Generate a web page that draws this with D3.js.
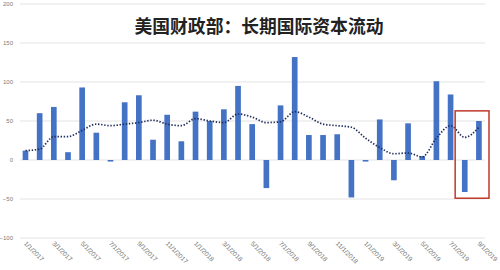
<!DOCTYPE html>
<html lang="zh">
<head>
<meta charset="UTF-8">
<title>美国财政部：长期国际资本流动</title>
<script src="https://d3js.org/d3.v7.min.js"></script>
<style>
  html, body { margin: 0; padding: 0; background: #fff; }
  svg { display: block; }
</style>
</head>
<body>
<div id="chart"></div>
<script>
  const months = [
    "1/1/2017","2/1/2017","3/1/2017","4/1/2017","5/1/2017","6/1/2017","7/1/2017","8/1/2017",
    "9/1/2017","10/1/2017","11/1/2017","12/1/2017","1/1/2018","2/1/2018","3/1/2018","4/1/2018",
    "5/1/2018","6/1/2018","7/1/2018","8/1/2018","9/1/2018","10/1/2018","11/1/2018","12/1/2018",
    "1/1/2019","2/1/2019","3/1/2019","4/1/2019","5/1/2019","6/1/2019","7/1/2019","8/1/2019","9/1/2019"
  ];
  // 月度资本流动（十亿美元）
  const flows = [12, 60, 68, 10, 93, 35, -2, 74, 83, 26, 58, 24, 62, 50, 65, 95, 46, -36, 70, 132,
                 32, 32, 33, -48, -2, 52, -26, 47, 5, 101, 84, -41, 50];
  // 虚线：移动平均
  const avgLine = [12, 14, 30, 30, 38, 46, 44, 46, 48, 51, 46, 44, 53, 50, 48, 59, 55, 48, 49, 62,
                   55, 46, 44, 42, 28, 16, 8, 9, 4, 28, 44, 29, 42];
  const yTicks = [-100, -50, 0, 50, 100, 150, 200];
  const highlightMonths = ["8/1/2019", "9/1/2019"];
  const highlightRange = [-49, 63];

  const W = 500, H = 270;
  const svg = d3.select("#chart").append("svg")
    .attr("width", W).attr("height", H);

  const x = d3.scaleBand().domain(months).range([18.4, 486]).padding(0);
  const y = d3.scaleLinear().domain([-100, 200]).range([238, 4]);

  // 网格线
  svg.append("g")
    .selectAll("line")
    .data(yTicks)
    .join("line")
    .attr("x1", 20).attr("x2", 485)
    .attr("y1", d => y(d)).attr("y2", d => y(d))
    .attr("stroke", "#e3e3e3").attr("stroke-width", 1);

  // y 轴标签
  const yAxis = svg.append("g")
    .attr("transform", "translate(13,0)")
    .call(d3.axisLeft(y).tickValues(yTicks).tickSize(0).tickPadding(0));
  yAxis.select(".domain").remove();
  yAxis.selectAll("text")
    .attr("fill", "#7a7a7a")
    .style("font-family", "Liberation Sans, Arial, sans-serif")
    .style("font-size", "6px");

  // 柱子
  const bw = x.bandwidth() * 0.4;
  svg.append("g")
    .selectAll("rect")
    .data(flows)
    .join("rect")
    .attr("x", (d, i) => x(months[i]) + (x.bandwidth() - bw) / 2)
    .attr("y", d => y(Math.max(0, d)))
    .attr("width", bw)
    .attr("height", d => Math.abs(y(d) - y(0)))
    .attr("fill", "#4472c4");

  // 虚线
  const line = d3.line()
    .x((d, i) => x(months[i]) + x.bandwidth() / 2)
    .y(d => y(d))
    .curve(d3.curveMonotoneX);
  svg.append("path")
    .datum(avgLine)
    .attr("fill", "none")
    .attr("stroke", "#1f2d5c")
    .attr("stroke-width", 1.7)
    .attr("stroke-dasharray", "1.4,1.7")
    .attr("d", line);

  // x 轴标签（每两个月）
  svg.append("g")
    .selectAll("text")
    .data(months.filter((d, i) => i % 2 === 0))
    .join("text")
    .attr("transform", d => `translate(${x(d) + x.bandwidth() / 2 - 2},${244}) rotate(45)`)
    .attr("fill", "#7a7a7a")
    .style("font-family", "Liberation Sans, Arial, sans-serif")
    .style("font-size", "6.5px")
    .text(d => d);

  // 红框
  const hx0 = x(highlightMonths[0]) - 2.5;
  const hx1 = x(highlightMonths[1]) + x.bandwidth() + 3;
  svg.append("rect")
    .attr("x", hx0)
    .attr("y", y(highlightRange[1]))
    .attr("width", hx1 - hx0)
    .attr("height", y(highlightRange[0]) - y(highlightRange[1]))
    .attr("fill", "none")
    .attr("stroke", "#c0392b")
    .attr("stroke-width", 1.5);

  // 标题
  svg.append("text")
    .attr("x", 259).attr("y", 33)
    .attr("text-anchor", "middle")
    .attr("fill", "#222")
    .style("font-family", "'Noto Sans CJK SC', sans-serif")
    .style("font-weight", "bold")
    .style("font-size", "17.8px")
    .text("美国财政部：长期国际资本流动");
</script>
</body>
</html>
